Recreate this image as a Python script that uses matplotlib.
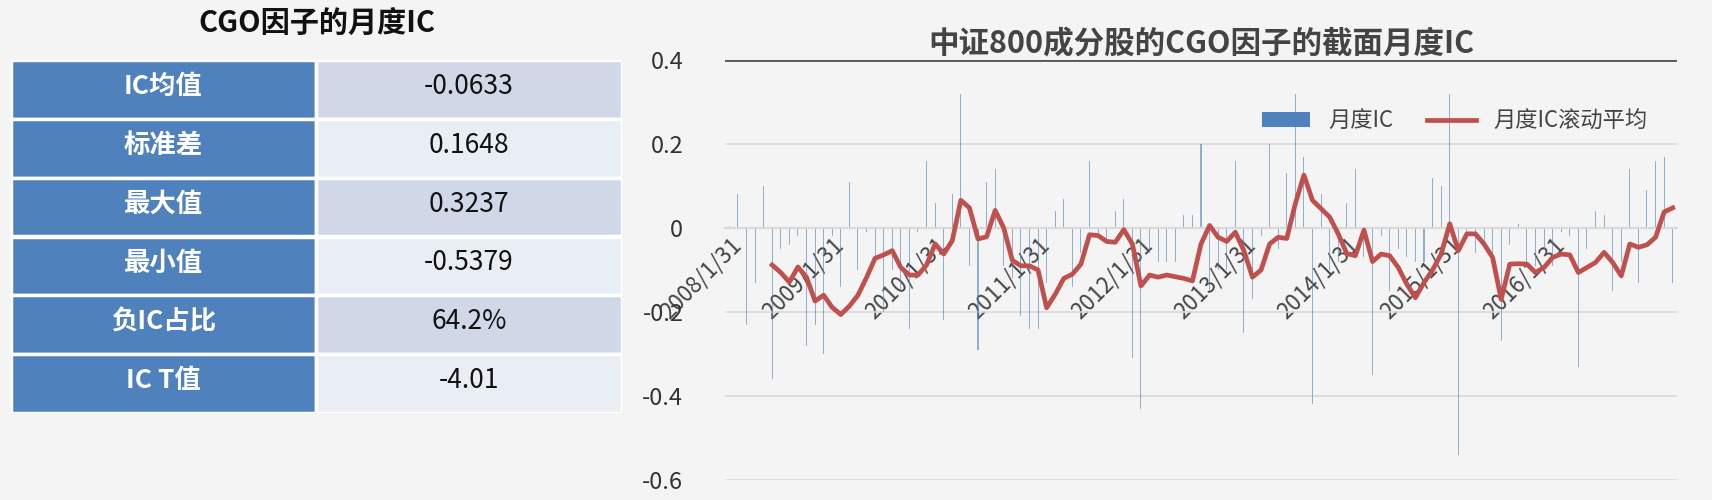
import matplotlib
matplotlib.use("Agg")
import matplotlib.pyplot as plt
from matplotlib.patches import Patch
import numpy as np

plt.rcParams['font.family'] = ['Noto Sans CJK SC', 'DejaVu Sans']

table_labels = ["IC均值", "标准差", "最大值", "最小值", "负IC占比", "IC T值"]
table_values = ["-0.0633", "0.1648", "0.3237", "-0.5379", "64.2%", "-4.01"]

ic = [0.005, 0.08, -0.23, -0.13, 0.10, -0.36, -0.05, -0.04, -0.02, -0.28,
      -0.23, -0.30, -0.02, -0.14, 0.11, -0.10, -0.01, -0.08, -0.20, -0.10,
      -0.15, -0.24, -0.01, 0.16, 0.06, -0.22, 0.08, 0.32, -0.09, -0.29,
      0.11, 0.14, -0.09, -0.12, -0.21, -0.24, -0.24, -0.13, 0.04, 0.07,
      -0.14, -0.06, 0.16, -0.02, -0.03, 0.04, 0.07, -0.31, -0.43, -0.06,
      -0.08, -0.08, -0.08, 0.03, 0.03, 0.20, -0.15, -0.10, -0.10, 0.16,
      -0.25, -0.17, -0.02, 0.20, -0.05, 0.13, 0.32, 0.17, -0.42, 0.08,
      -0.10, -0.08, 0.06, 0.14, -0.07, -0.35, -0.02, -0.15, -0.05, -0.07,
      -0.08, -0.08, 0.12, 0.10, 0.32, -0.54, -0.01, -0.06, -0.05, -0.07,
      -0.27, -0.04, 0.01, -0.08, -0.09, -0.05, -0.09, -0.01, -0.02, -0.33,
      -0.05, 0.04, 0.03, -0.15, -0.08, 0.14, -0.13, 0.09, 0.16, 0.17, -0.13]

roll = [np.nan]*5 + [-0.088, -0.106, -0.129, -0.093, -0.117, -0.174, -0.16, -0.189, -0.206, -0.186,
        -0.16, -0.118, -0.072, -0.064, -0.054, -0.094, -0.112, -0.112, -0.088, -0.038,
        -0.062, -0.03, 0.066, 0.048, -0.026, -0.021, 0.042, 0.0, -0.077, -0.09,
        -0.09, -0.10, -0.19, -0.158, -0.12, -0.11, -0.086, -0.016, -0.018, -0.032,
        -0.034, -0.004, -0.038, -0.138, -0.112, -0.117, -0.112, -0.116, -0.12, -0.126,
        -0.038, 0.006, -0.022, -0.032, -0.01, -0.054, -0.117, -0.10, -0.038, -0.022,
        -0.025, 0.058, 0.126, 0.066, 0.046, 0.026, -0.014, -0.061, -0.066, -0.005,
        -0.08, -0.062, -0.066, -0.094, -0.134, -0.166, -0.13, -0.10, -0.062, 0.01,
        -0.054, -0.014, -0.014, -0.038, -0.07, -0.17, -0.086, -0.085, -0.086, -0.106,
        -0.094, -0.07, -0.062, -0.064, -0.106, -0.094, -0.082, -0.058, -0.082, -0.114,
        -0.038, -0.046, -0.04, -0.022, 0.038, 0.048]

tick_pos = [0, 12, 24, 36, 48, 60, 72, 84, 96]
tick_labels = ["2008/1/31", "2009/1/31", "2010/1/31", "2011/1/31", "2012/1/31",
               "2013/1/31", "2014/1/31", "2015/1/31", "2016/1/31"]

bg = "#f4f4f4"
fig = plt.figure(figsize=(17.12, 5.0), dpi=100, facecolor=bg)

# ---- table ----
fig.text(317/1712, 1-24/500, "CGO因子的月度IC", ha="center", va="center",
         fontsize=21, fontweight="bold", color="#111111")
tax = fig.add_axes([11/1712, 1-413/500, 611/1712, 353/500])
tax.set_xlim(0, 1); tax.set_ylim(len(table_labels), 0); tax.axis("off")
split = 305/611
for i, (lab, val) in enumerate(zip(table_labels, table_values)):
    tax.add_patch(plt.Rectangle((0, i), split, 1, facecolor="#4f81bd", edgecolor="white", lw=2.5))
    fc = "#d0d8e8" if i % 2 == 0 else "#e9edf4"
    tax.add_patch(plt.Rectangle((split, i), 1-split, 1, facecolor=fc, edgecolor="white", lw=2.5))
    tax.text(split/2, i+0.45, lab, ha="center", va="center", color="white",
             fontsize=19, fontweight="bold")
    tax.text(split + (1-split)/2, i+0.45, val, ha="center", va="center",
             color="#111111", fontsize=19)

# ---- chart ----
ax = fig.add_axes([725/1712, 1-480/500, 952/1712, 420/500], facecolor=bg)
x = np.arange(len(ic))
ax.bar(x, ic, width=0.12, color="#4f81bd", alpha=0.6, zorder=2)
line, = ax.plot(x, roll, color="#c0504d", lw=3.4, zorder=3)
ax.set_ylim(-0.6, 0.4)
ax.set_xlim(-0.5, len(ic) - 0.5)
ax.set_yticks([-0.6, -0.4, -0.2, 0, 0.2, 0.4])
ax.set_yticklabels(["-0.6", "-0.4", "-0.2", "0", "0.2", "0.4"])
ax.yaxis.grid(True, color="#d9d9d9", lw=1.2, zorder=0)
ax.axhline(0.4, color="#555555", lw=2, zorder=4)
for s in ["top", "right", "left"]:
    ax.spines[s].set_visible(False)
ax.spines["bottom"].set_position(("data", 0))
ax.spines["bottom"].set_color("#d9d9d9")
ax.spines["bottom"].set_linewidth(1.5)
ax.set_xticks(tick_pos)
ax.set_xticklabels(tick_labels, rotation=45, ha="right", rotation_mode="anchor")
ax.tick_params(axis="x", length=0, labelsize=16, colors="#444444", pad=4)
ax.tick_params(axis="y", length=0, labelsize=17, colors="#333333", pad=30)
ax.set_title("中证800成分股的CGO因子的截面月度IC", fontsize=22, fontweight="bold",
             color="#444444", pad=0)
handles = [Patch(facecolor="#4f81bd"), line]
ax.legend(handles, ["月度IC", "月度IC滚动平均"], loc="upper right",
          bbox_to_anchor=(0.99, 0.93), ncol=2, frameon=False,
          fontsize=16, handlelength=2.2, labelcolor="#444444", columnspacing=1.5)

fig.savefig("out.png", dpi=100, facecolor=bg)
